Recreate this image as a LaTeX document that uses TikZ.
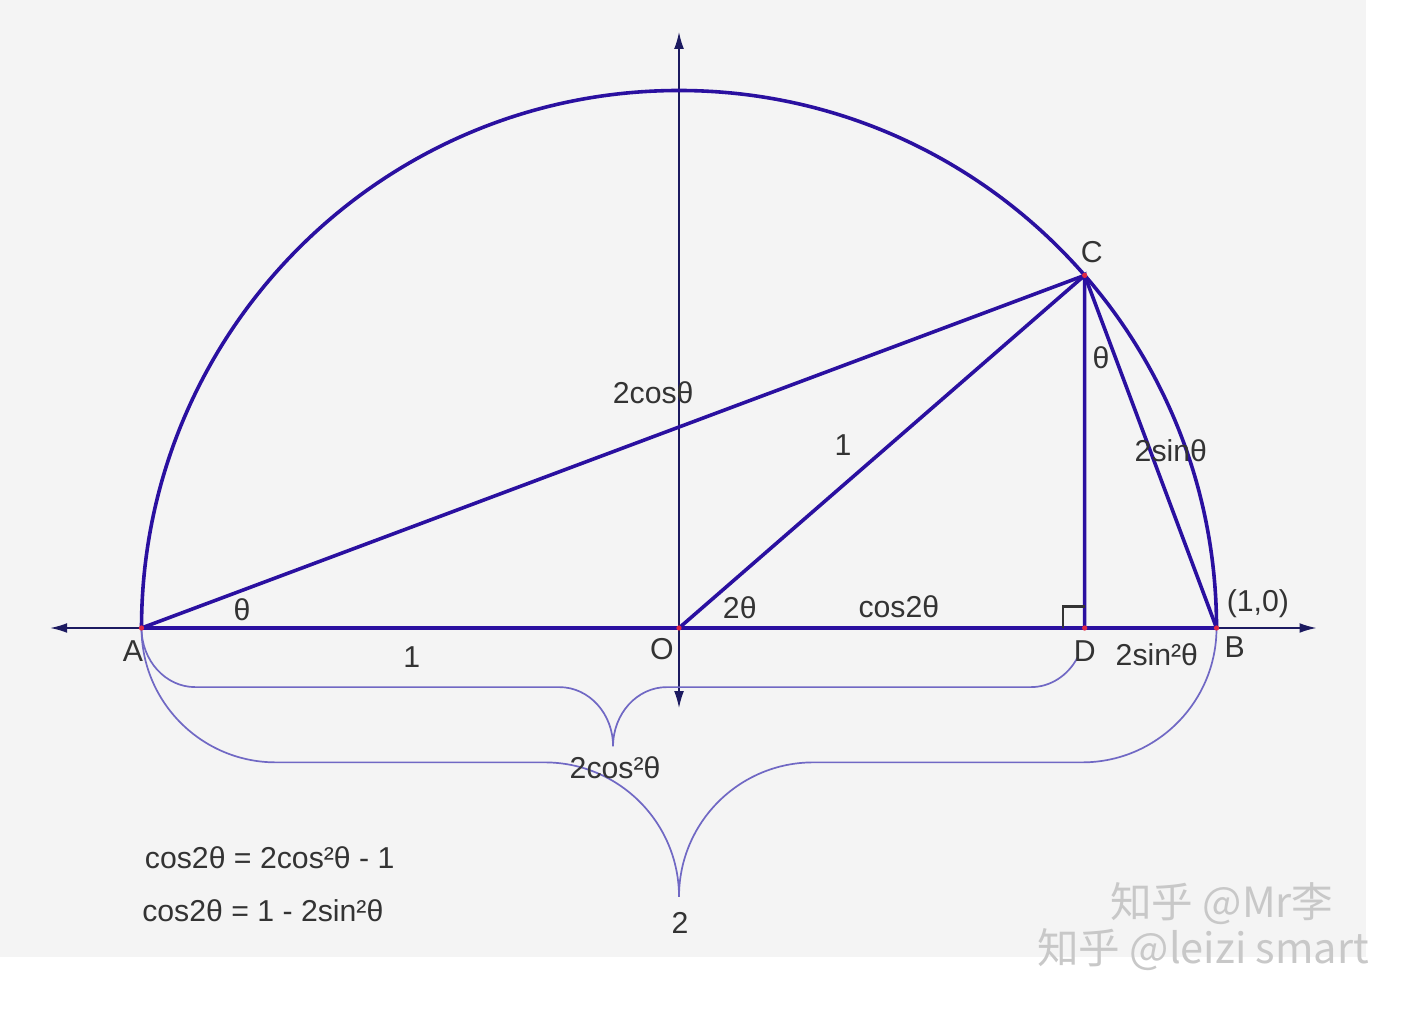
\documentclass[tikz,border=0pt]{standalone}
\usepackage{fontspec}
\usepackage{tikz}
\setmainfont{Liberation Sans}
\newfontfamily\cjk{Noto Sans CJK SC}
\usetikzlibrary{arrows.meta}
\usetikzlibrary{calc}
\tikzset{>={Latex[length = 4.5pt, width = 2.6pt]}}
\tikzset{dot/.style = {fill = mred, circle, inner sep = 0, minimum size = 1.4}}
\tikzset{thk/.style = {mblue, line width = 0.95pt}}
\tikzset{axis/.style = {mnavy, line width = 0.4pt, <->}}
\tikzset{brace/.style = {mlilac, line width = 0.45pt}}
\tikzset{rangle/.style = {mtext, line width = 0.6pt}}
\tikzset{lbl/.style = {text = mtext, inner sep = 0}}
\tikzset{wmark/.style = {text = mmark, inner sep = 0, font = \cjk\fontsize{11}{13}\selectfont}}
\definecolor{mblue}{RGB}{42, 16, 160}
\definecolor{mnavy}{RGB}{28, 26, 96}
\definecolor{mlilac}{RGB}{112, 104, 196}
\definecolor{mred}{RGB}{225, 40, 70}
\definecolor{mtext}{RGB}{51, 51, 51}
\definecolor{mbg}{RGB}{244, 244, 244}
\definecolor{mmark}{RGB}{200, 200, 200}

\begin{document}
  \begin{tikzpicture}[x = 5cm, y = 5cm, font = \fontsize{8}{10}\selectfont]
    \fill [white] (-1.2633, -0.7070) rectangle (1.3544, 1.1684);
    \fill [mbg] (-1.2633, -0.6121) rectangle (1.2781, 1.1684);

    \coordinate (O) at (0, 0);
    \coordinate (A) at (-1, 0);
    \coordinate (B) at (1, 0);
    \coordinate (C) at (41:1);
    \coordinate (D) at ({cos(41)}, 0);
    \coordinate (xl) at (-1.170, 0);
    \coordinate (xr) at (1.186, 0);
    \coordinate (yb) at (0, -0.149);
    \coordinate (yt) at (0, 1.109);

    \draw [axis] (xl) -- (xr);
    \draw [axis] (yb) -- (yt);

    \draw [thk] (B) arc [start angle = 0, end angle = 180, radius = 1];
    \draw [thk] (A) -- (B);
    \draw [thk] (A) -- (C) -- (B);
    \draw [thk] (O) -- (C) -- (D);
    \draw [rangle] ($(D) + (-0.04, 0)$) -- ++(0, 0.04) -- ++(0.04, 0);

    \draw [brace] (A) arc [start angle = 180, end angle = 270, x radius = 0.1, y radius = 0.11]
      -- (-0.2227, -0.11) arc [start angle = 90, end angle = 0, x radius = 0.1, y radius = 0.11]
      arc [start angle = 180, end angle = 90, x radius = 0.1, y radius = 0.11]
      -- (0.6547, -0.11) arc [start angle = 270, end angle = 330, x radius = 0.1, y radius = 0.11];
    \draw [brace] (A) arc [start angle = 180, end angle = 270, radius = 0.25]
      -- (-0.25, -0.25) arc [start angle = 90, end angle = 0, radius = 0.25]
      arc [start angle = 180, end angle = 90, radius = 0.25]
      -- (0.75, -0.25) arc [start angle = 270, end angle = 360, radius = 0.25];

    \foreach \p in {A, O, D, B, C} {
      \node [dot] (dot\p) at (\p) {};
    }

    \node [lbl] (labC) at (0.768, 0.700) {C};
    \node [lbl] (labthC) at (0.785, 0.502) {θ};
    \node [lbl] (labCB) at (0.915, 0.329) {2sinθ};
    \node [lbl] (labOC) at (0.305, 0.340) {1};
    \node [lbl] (labAC) at (-0.048, 0.437) {2cosθ};
    \node [lbl] (labthA) at (-0.813, 0.034) {θ};
    \node [lbl] (labthO) at (0.113, 0.037) {2θ};
    \node [lbl] (labOD) at (0.409, 0.039) {cos2θ};
    \node [lbl] (labone) at (1.077, 0.045) {(1,0)};
    \node [lbl] (labA) at (-1.016, -0.043) {A};
    \node [lbl] (labAO) at (-0.497, -0.054) {1};
    \node [lbl] (labO) at (-0.032, -0.039) {O};
    \node [lbl] (labD) at (0.755, -0.043) {D};
    \node [lbl] (labDB) at (0.889, -0.050) {2sin²θ};
    \node [lbl] (labB) at (1.034, -0.035) {B};
    \node [lbl] (labAD) at (-0.119, -0.260) {2cos²θ};
    \node [lbl] (labAB) at (0.002, -0.549) {2};
    \node [lbl, anchor = west] (eqcos) at (-0.995, -0.428) {cos2θ = 2cos²θ - 1};
    \node [lbl, anchor = west] (eqsin) at (-1.0, -0.5265) {cos2θ = 1 - 2sin²θ};
    \node [wmark] (wmone) at (1.010, -0.512) {知乎 @Mr李};
    \node [wmark] (wmtwo) at (0.975, -0.599) {知乎 @leizi smart};
  \end{tikzpicture}
\end{document}
